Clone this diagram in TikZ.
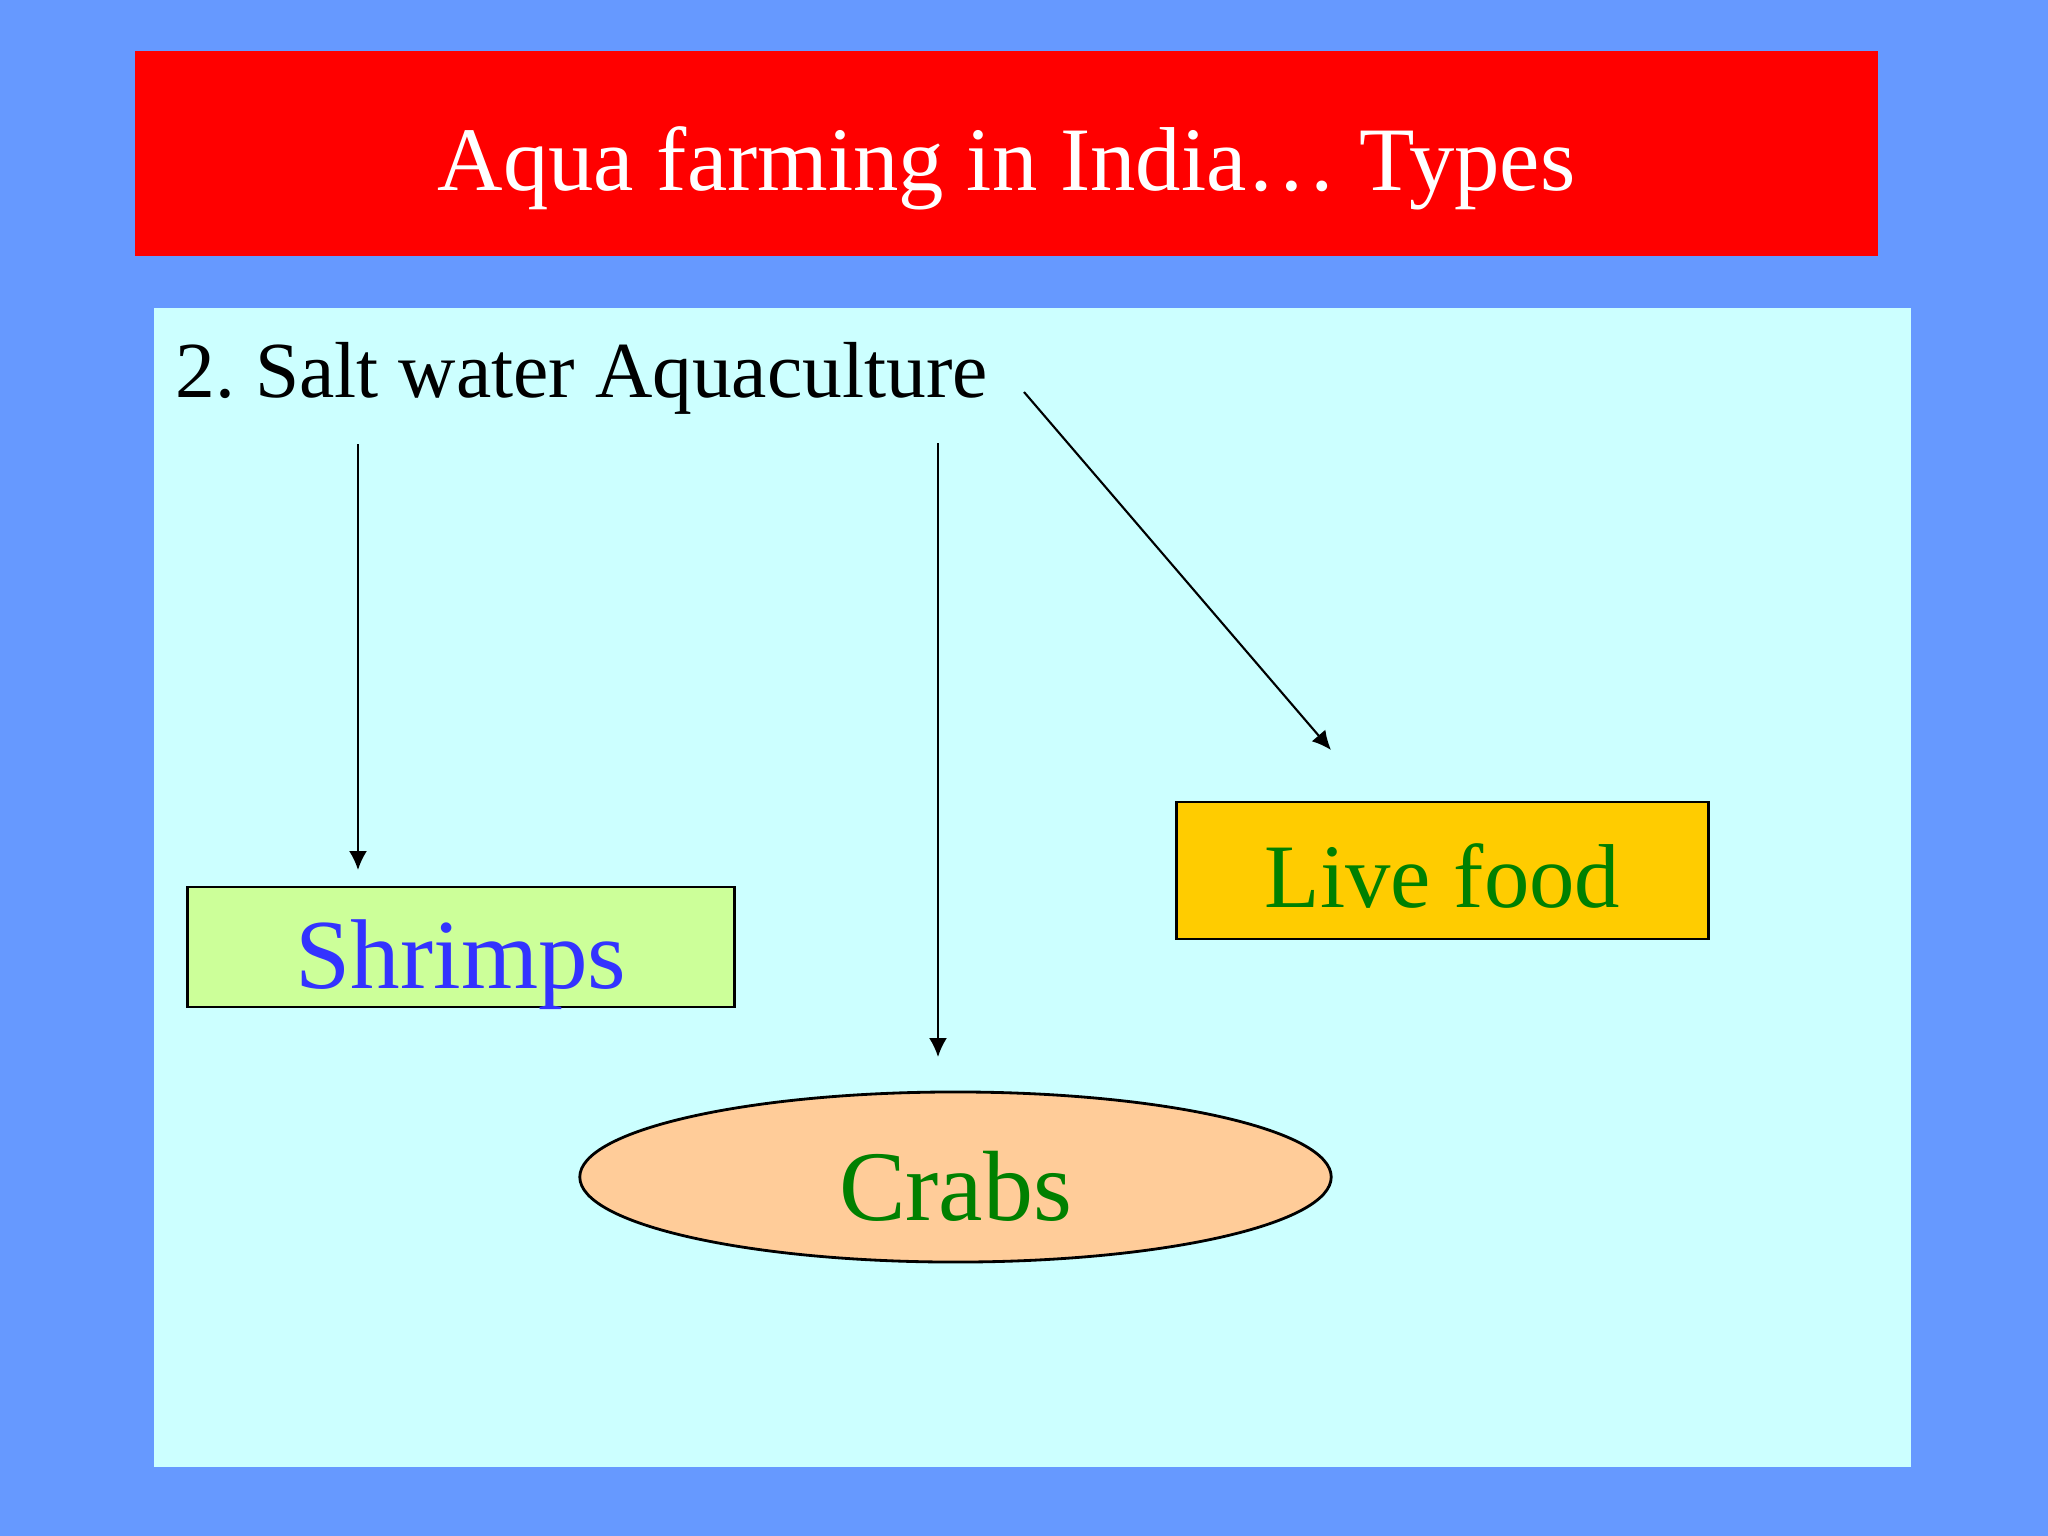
\documentclass[tikz,border=0pt]{standalone}
\usepackage{fontspec}
\setmainfont{Liberation Serif}
\usetikzlibrary{arrows.meta,shapes.geometric}
\usepackage{xcolor}
\definecolor{slideblue}{HTML}{6699FF}
\definecolor{panelcyan}{HTML}{CCFFFF}
\definecolor{titlered}{HTML}{FF0000}
\definecolor{shrimpfill}{HTML}{CCFF99}
\definecolor{shrimptext}{HTML}{3333FF}
\definecolor{foodfill}{HTML}{FFCC00}
\definecolor{crabfill}{HTML}{FFCC99}
\definecolor{leafgreen}{HTML}{008000}
\frenchspacing

\begin{document}
\begin{tikzpicture}[x=0.01cm, y=-0.01cm]
\tikzset{kindbox/.style={draw, line width=0.8pt, inner sep=0pt, align=center, text depth=0pt} }
\tikzset{>={Latex[width=1.8mm,length=1.9mm]}}
\fill[slideblue] (0,0) rectangle (2048,1536);
\fill[panelcyan] (154,308) rectangle (1911,1467);
\node[fill=titlered, minimum width=17.41cm, minimum height=2.05cm, inner sep=0pt, text=white, text height=0.73cm, text depth=0pt, font=\fontsize{25.8}{30}\selectfont] (title) at (1006.5,153.5) {Aqua farming in India… Types};
\node[anchor=base west, inner sep=0pt, font=\fontsize{22.6}{27}\selectfont] (salt) at (175,397) {2. Salt water Aquaculture};
\node[kindbox, fill=shrimpfill, text=shrimptext, minimum width=5.46cm, minimum height=1.20cm, text height=0.82cm, font=\fontsize{28.2}{32}\selectfont] (shrimps) at (461,947) {Shrimps};
\node[kindbox, fill=foodfill, text=leafgreen, minimum width=5.31cm, minimum height=1.37cm, text height=0.73cm, font=\fontsize{25.8}{30}\selectfont] (livefood) at (1442.5,870.5) {Live food};
\node[kindbox, ellipse, fill=crabfill, text=leafgreen, minimum width=7.51cm, minimum height=1.70cm, text height=0.86cm, font=\fontsize{28.4}{32}\selectfont] (crabs) at (955.5,1177) {Crabs};
\coordinate (shrimpsfrom) at (358,444);
\coordinate (shrimpsto) at (358,870);
\coordinate (crabsfrom) at (938,443);
\coordinate (crabsto) at (938,1057);
\coordinate (foodfrom) at (1024,392);
\coordinate (foodto) at (1331,750);
\draw[->, line width=0.6pt] (shrimpsfrom) -- (shrimpsto);
\draw[->, line width=0.6pt] (crabsfrom) -- (crabsto);
\draw[->, line width=0.6pt] (foodfrom) -- (foodto);
\end{tikzpicture}
\end{document}
